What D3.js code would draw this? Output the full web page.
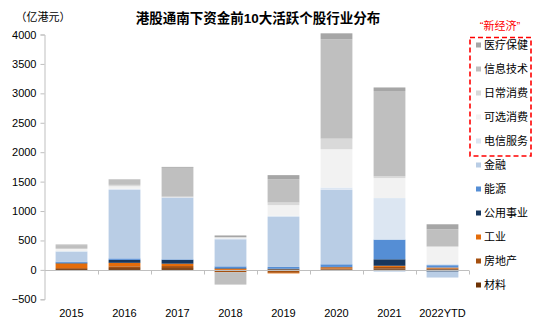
<!DOCTYPE html>
<html><head><meta charset="utf-8">
<script src="https://cdn.jsdelivr.net/npm/d3@7"></script>
<style>
html,body{margin:0;padding:0;background:#fff;}
text{font-family:"Liberation Sans","Noto Sans CJK SC",sans-serif;}
</style></head>
<body><svg id="c" width="550" height="322"></svg>
<script>
const years = ["2015","2016","2017","2018","2019","2020","2021","2022YTD"];
const sectors = ["材料","房地产","工业","公用事业","能源","金融","电信服务","可选消费","日常消费","信息技术","医疗保健"];
const colors = ["#6e3204","#a5500f","#e46c0a","#17375e","#558ed5","#b9cde5","#dce6f2","#f2f2f2","#d9d9d9","#bfbfbf","#a6a6a6"];
// values by sector (same order as sectors), per year
const 材料     = [15, 30, 30, -15, 10, 10, 25, 10];
const 房地产   = [15, 30, 35, -25, -50, 15, 25, 15];
const 工业     = [80, 60, 40, 20, -10, 20, 20, 15];
const 公用事业 = [10, 50, 65, 10, 10, 5, 110, -30];
const 能源     = [20, 25, 10, 30, 30, 45, 335, 40];
const 金融     = [170, 1165, 1050, 460, 850, 1265, -30, -100];
const 电信服务 = [10, 20, 0, 15, 20, 40, 705, 20];
const 可选消费 = [40, 40, 5, 15, 180, 650, 340, 290];
const 日常消费 = [0, 25, 10, 5, 45, 180, 30, 10];
const 信息技术 = [60, 90, 490, -210, 395, 1690, 1450, 290];
const 医疗保健 = [10, 5, 15, 30, 70, 100, 60, 85];
const seriesValues = [材料,房地产,工业,公用事业,能源,金融,电信服务,可选消费,日常消费,信息技术,医疗保健];
const yTicks = [-500,0,500,1000,1500,2000,2500,3000,3500,4000];
const title = "港股通南下资金前10大活跃个股行业分布";
const unitLabel = "（亿港元）";
const groupLabel = "“新经济”";

const table = years.map((y,i)=>{const o={year:y}; sectors.forEach((s,j)=>o[s]=seriesValues[j][i]); return o;});
const stack = d3.stack().keys(sectors).offset(d3.stackOffsetDiverging)(table);

const svg = d3.select("#c");
const x = d3.scaleBand().domain(years).range([45,469]).paddingInner(0.4).paddingOuter(0.2);
const y = d3.scaleLinear().domain([-500,4000]).range([299.3,34.5]);

// bars
svg.append("g").selectAll("g").data(stack).join("g")
  .attr("fill",(d,i)=>colors[i])
  .selectAll("rect").data(d=>d).join("rect")
  .attr("x",d=>x(d.data.year))
  .attr("width",x.bandwidth())
  .attr("y",d=>y(Math.max(d[0],d[1])))
  .attr("height",d=>Math.abs(y(d[0])-y(d[1])));

// y axis
const ya = svg.append("g").attr("transform","translate(44.5,0)")
  .call(d3.axisLeft(y).tickValues(yTicks).tickFormat(d3.format("d")).tickSize(4).tickPadding(4));
ya.select(".domain").attr("stroke","#bfbfbf");
ya.selectAll(".tick line").attr("stroke","#bfbfbf");
ya.selectAll("text").attr("font-size",11).attr("fill","#000");

// x axis at zero
const xa = svg.append("g").attr("transform",`translate(0,${Math.round(y(0))+0.5})`);
xa.append("line").attr("x1",44.5).attr("x2",469).attr("stroke","#bfbfbf");
const bounds = years.map((d,i)=>x(d)-x.step()*x.paddingInner()/2).concat([x(years[years.length-1])+x.bandwidth()+x.step()*x.paddingInner()/2]);
xa.selectAll("line.t").data(bounds.slice(1)).join("line").attr("class","t")
  .attr("x1",d=>Math.round(d)+0.5).attr("x2",d=>Math.round(d)+0.5).attr("y1",0).attr("y2",4).attr("stroke","#bfbfbf");
svg.append("g").selectAll("text").data(years).join("text")
  .attr("x",d=>x(d)+x.bandwidth()/2).attr("y",317)
  .attr("text-anchor","middle").attr("font-size",11).text(d=>d);

// titles
svg.append("text").attr("x",258).attr("y",23).attr("text-anchor","middle")
  .attr("font-size",13.5).attr("font-weight","bold").text(title);
svg.append("text").attr("x",43).attr("y",21).attr("text-anchor","middle")
  .attr("font-size",11).text(unitLabel);

// legend
const legendOrder = sectors.map((s,i)=>({s,c:colors[i]})).reverse();
const lg = svg.append("g");
legendOrder.forEach((d,i)=>{
  const cy = 45 + i*24;
  lg.append("rect").attr("x",476).attr("y",cy-2.5).attr("width",5).attr("height",5).attr("fill",d.c);
  lg.append("text").attr("x",484).attr("y",cy+4).attr("font-size",11).text(d.s);
});
svg.append("rect").attr("x",470).attr("y",37.5).attr("width",61).attr("height",118.5)
  .attr("fill","none").attr("stroke","#ff0000").attr("stroke-width",1.6).attr("stroke-dasharray","5,3");
svg.append("text").attr("x",500).attr("y",30).attr("text-anchor","middle")
  .attr("font-size",11).attr("fill","#ff0000").text(groupLabel);
</script></body></html>
